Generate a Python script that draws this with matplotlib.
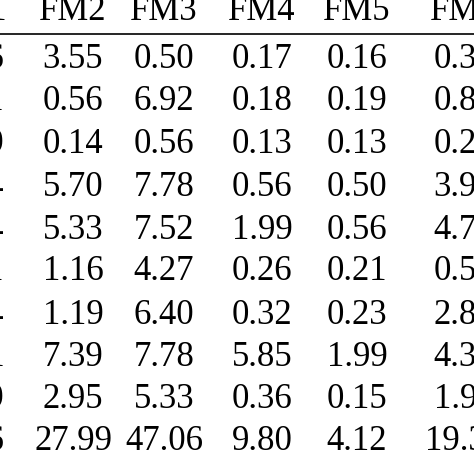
import matplotlib.pyplot as plt

headers = ["FM1", "FM2", "FM3", "FM4", "FM5", "FM6"]
fm1 = ["0.16", "0.31", "0.09", "0.54", "0.44", "0.21", "0.24", "1.91", "0.19", "3.86"]
fm2 = ["3.55", "0.56", "0.14", "5.70", "5.33", "1.16", "1.19", "7.39", "2.95", "27.99"]
fm3 = ["0.50", "6.92", "0.56", "7.78", "7.52", "4.27", "6.40", "7.78", "5.33", "47.06"]
fm4 = ["0.17", "0.18", "0.13", "0.56", "1.99", "0.26", "0.32", "5.85", "0.36", "9.80"]
fm5 = ["0.16", "0.19", "0.13", "0.50", "0.56", "0.21", "0.23", "1.99", "0.15", "4.12"]
fm6 = ["0.35", "0.85", "0.25", "3.95", "4.75", "0.55", "2.85", "4.35", "1.95", "19.35"]
columns = [fm1, fm2, fm3, fm4, fm5, fm6]

W = H = 474
fig = plt.figure(figsize=(4.74, 4.74), dpi=100)
fig.patch.set_facecolor("white")

col_x = [-26, 73, 164, 262, 357, 464]
row_y = [60, 102, 145, 187, 230, 272, 315, 357, 400, 441]
font = dict(family=["Liberation Serif", "DejaVu Serif"], fontsize=25, va="center", ha="center")

def px(x, y):
    return x / W, 1 - y / H

for h, x in zip(headers, col_x):
    fig.text(*px(x, 12), h, **font)
fig.add_artist(plt.Line2D([0, 1], [1 - 34 / H] * 2, color="black", lw=1.2))
for col, x in zip(columns, col_x):
    for v, y in zip(col, row_y):
        fig.text(*px(x, y), v, **font)

fig.savefig("out.png", dpi=100)
